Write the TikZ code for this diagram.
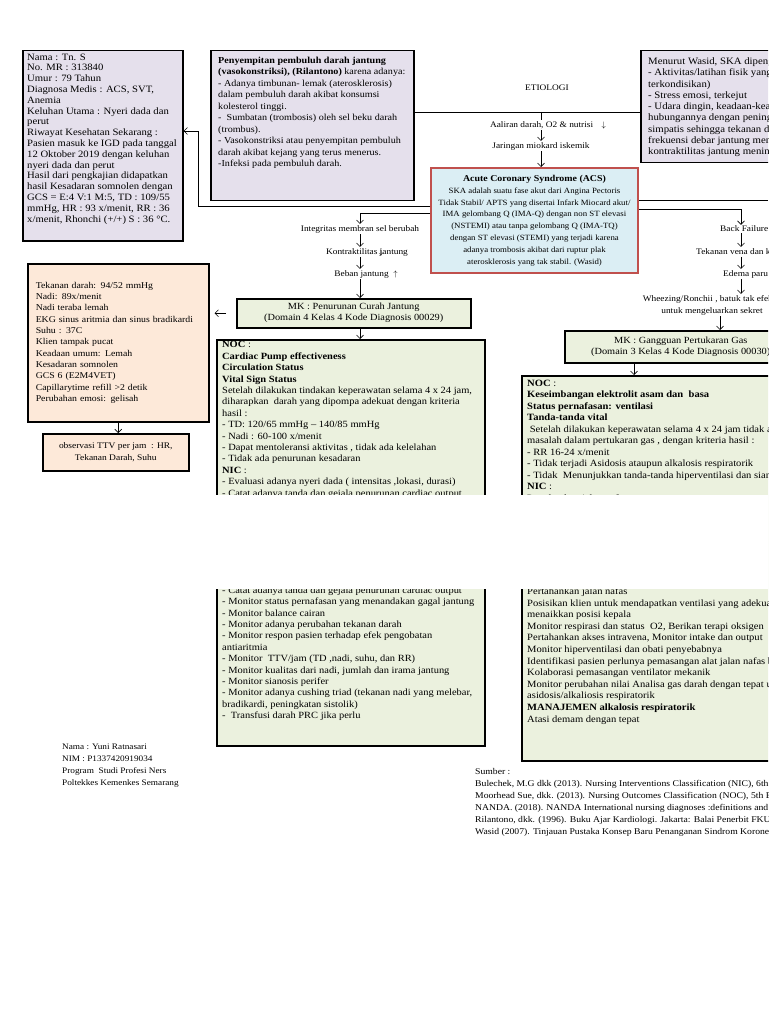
\documentclass[tikz,border=0pt]{standalone}
\usepackage{fontspec}
\setmainfont{Liberation Serif}[FakeStretch=1.1]
\usetikzlibrary{positioning, calc, arrows.meta}
\definecolor{lav}{HTML}{E5E0EC}
\definecolor{peach}{HTML}{FDE9D9}
\definecolor{sage}{HTML}{EBF1DE}
\definecolor{sky}{HTML}{DBEEF4}
\definecolor{brick}{HTML}{C0504D}
\newcommand{\fsz}[2]{\fontsize{#1}{#2}\selectfont}
\tikzset{box/.style={draw, line width=1.5pt, inner sep=0pt, anchor=north west}}
\tikzset{lavbox/.style={box, fill=lav}}
\tikzset{peachbox/.style={box, fill=peach}}
\tikzset{sagebox/.style={box, fill=sage}}
\tikzset{txt/.style={inner sep=0pt, anchor=north west, align=left}}
\tikzset{lbl/.style={inner sep=1pt, font=\fsz{8.5}{10}}}
\tikzset{arr/.style={-{Straight Barb[length=3.5pt,width=7pt]}, line width=0.6pt}}
\tikzset{link/.style={line width=0.6pt}}

\begin{document}
\begin{tikzpicture}[x=1pt, y=-1pt]
  \useasboundingbox (0,0) rectangle (768,1024);
  \clip (0,0) rectangle (768,1024);

  \node[lavbox, minimum width=160pt, minimum height=190pt] (pat) at (22,50) {};
  \node[txt, font=\fsz{9.7}{10.8}] (pattxt) at (27,53.5) {Nama : Tn. S\\No. MR : 313840\\Umur : 79 Tahun\\Diagnosa Medis : ACS, SVT,\\Anemia\\Keluhan Utama : Nyeri dada dan\\perut\\Riwayat Kesehatan Sekarang :\\Pasien masuk ke IGD pada tanggal\\12 Oktober 2019 dengan keluhan\\nyeri dada dan perut\\Hasil dari pengkajian didapatkan\\hasil Kesadaran somnolen dengan\\GCS = E:4 V:1 M:5, TD : 109/55\\mmHg, HR : 93 x/menit, RR : 36\\x/menit, Rhonchi (+/+) S : 36 °C.};

  \node[lavbox, minimum width=203pt, minimum height=150pt] (pen) at (210,50) {};
  \node[txt, font=\fsz{9.2}{11.5}] (pentxt) at (218,56.5) {\textbf{Penyempitan pembuluh darah jantung}\\\textbf{(vasokonstriksi), (Rilantono)} karena adanya:\\- Adanya timbunan- lemak (aterosklerosis)\\dalam pembuluh darah akibat konsumsi\\kolesterol tinggi.\\-\ \ Sumbatan (trombosis) oleh sel beku darah\\(trombus).\\- Vasokonstriksi atau penyempitan pembuluh\\darah akibat kejang yang terus menerus.\\-Infeksi pada pembuluh darah.};

  \node[lavbox, minimum width=140pt, minimum height=112pt] (men) at (640,50) {};
  \node[txt, font=\fsz{9.8}{11.3}] (mentxt) at (648,57.5) {Menurut Wasid, SKA dipengaruhi oleh :\\- Aktivitas/latihan fisik yang berlebihan (tak\\terkondisikan)\\- Stress emosi, terkejut\\- Udara dingin, keadaan-keadaan tersebut ada\\hubungannya dengan peningkatan aktivitas\\simpatis sehingga tekanan darah meningkat,\\frekuensi debar jantung meningkat, dan\\kontraktilitas jantung meningkat.};

  \node[lbl] (eti) at (547,88) {ETIOLOGI};
  \coordinate (cx) at (541,112);
  \draw[link] (pen.east |- cx) -- (men.west |- cx);
  \node[lbl] (alir) at (548,125) {Aaliran darah, O2 \& nutrisi\quad$\downarrow$};
  \node[lbl] (jar) at (541,146) {Jaringan miokard iskemik};
  \draw[link] (cx) -- (cx |- alir.north);
  \draw[arr] (cx |- alir.south) -- (cx |- jar.north);

  \node[box, draw=brick, line width=2pt, fill=sky, minimum width=207pt, minimum height=105pt, align=center, font=\fsz{8}{11.8}] (acs) at (430,167) {{\bfseries\fsz{9}{11.8}Acute Coronary Syndrome (ACS)}\\SKA adalah suatu fase akut dari Angina Pectoris\\Tidak Stabil/ APTS yang disertai Infark Miocard akut/\\IMA gelombang Q (IMA-Q) dengan non ST elevasi\\(NSTEMI) atau tanpa gelombang Q (IMA-TQ)\\dengan ST elevasi (STEMI) yang terjadi karena\\adanya trombosis akibat dari ruptur plak\\aterosklerosis yang tak stabil. (Wasid)};
  \draw[arr] (jar.south) -- (jar.south |- acs.north);

  \coordinate (lb) at (198,206);
  \coordinate (lt) at (198,131);
  \draw[arr] (acs.west |- lb) -- (lb) -- (lt) -- (lt -| pat.east);

  \node[lbl] (integ) at (360,229) {Integritas membran sel berubah};
  \node[lbl] (kontr) at (367,252) {Kontraktilitas\rlap{$\,\downarrow$} jantung};
  \node[lbl] (beban) at (366,274) {Beban jantung\ \ $\uparrow$};
  \coordinate (ib) at (360,213);
  \draw[arr] (acs.west |- ib) -- (ib) -- (ib |- integ.north);
  \draw[arr] (ib |- integ.south) -- (ib |- kontr.north);
  \draw[arr] (ib |- kontr.south) -- (ib |- beban.north);

  \node[sagebox, minimum width=234pt, minimum height=29pt, align=center, font=\fsz{9.4}{11}] (mkl) at (236,298) {MK : Penurunan Curah Jantung\\(Domain 4 Kelas 4 Kode Diagnosis 00029)};
  \draw[arr] (ib |- beban.south) -- (ib |- mkl.north);

  \node[peachbox, minimum width=181pt, minimum height=158pt, text width=165pt, inner xsep=8pt, align=left, font=\fsz{8.9}{11.3}] (tek) at (27,263) {Tekanan darah: 94/52 mmHg\\Nadi: 89x/menit\\Nadi teraba lemah\\EKG sinus aritmia dan sinus bradikardi\\Suhu : 37C\\Klien tampak pucat\\Keadaan umum: Lemah\\Kesadaran somnolen\\GCS 6 (E2M4VET)\\Capillarytime refill >2 detik\\Perubahan emosi: gelisah};
  \draw[arr, shorten <=10pt, shorten >=5pt] (mkl.west) -- (mkl.west -| tek.east);

  \node[peachbox, minimum width=146pt, minimum height=37pt, align=center, font=\fsz{8.6}{12}] (obs) at (42,433) {observasi TTV per jam\ \ : HR,\\Tekanan Darah, Suhu};
  \draw[arr] (tek.south) -- (tek.south |- obs.north);

  \node[sagebox, minimum width=268pt, minimum height=406pt] (nocl) at (216,339) {};
  \draw[arr] (ib |- mkl.south) -- (ib |- nocl.north);
  \node[txt, font=\fsz{9.5}{11.4}] (noclup) at (222,341.5) {\textbf{NOC} :\\\textbf{Cardiac Pump effectiveness}\\\textbf{Circulation Status}\\\textbf{Vital Sign Status}\\Setelah dilakukan tindakan keperawatan selama 4 x 24 jam,\\diharapkan\ \ darah yang dipompa adekuat dengan kriteria\\hasil :\\- TD: 120/65 mmHg -- 140/85 mmHg\\- Nadi : 60-100 x/menit\\- Dapat mentoleransi aktivitas , tidak ada kelelahan\\- Tidak ada penurunan kesadaran\\\textbf{NIC} :\\- Evaluasi adanya nyeri dada ( intensitas ,lokasi, durasi)\\- Catat adanya tanda dan gejala penurunan cardiac output};
  \node[txt, font=\fsz{9.5}{11.4}] (nocllo) at (222,586.5) {- Catat adanya tanda dan gejala penurunan cardiac output\\- Monitor status pernafasan yang menandakan gagal jantung\\- Monitor balance cairan\\- Monitor adanya perubahan tekanan darah\\- Monitor respon pasien terhadap efek pengobatan\\antiaritmia\\- Monitor\ \ TTV/jam (TD ,nadi, suhu, dan RR)\\- Monitor kualitas dari nadi, jumlah dan irama jantung\\- Monitor sianosis perifer\\- Monitor adanya cushing triad (tekanan nadi yang melebar,\\bradikardi, peningkatan sistolik)\\-\ \ Transfusi darah PRC jika perlu};

  \coordinate (rb) at (741,209);
  \coordinate (re) at (768,200);
  \draw[link] (acs.east |- re) -- (re);
  \node[lbl, anchor=west] (back) at (719,229) {Back Failure};
  \node[lbl, anchor=west] (tekv) at (695,252) {Tekanan vena dan kapiler paru meningkat};
  \node[lbl, anchor=west] (edema) at (722,274) {Edema paru meningkat};
  \node[lbl, align=center, font=\fsz{8.5}{12}] (whz) at (712,305) {Wheezing/Ronchii , batuk tak efektif\\untuk mengeluarkan sekret};
  \draw[arr] (acs.east |- rb) -- (rb) -- (rb |- back.north);
  \draw[arr] (rb |- back.south) -- (rb |- tekv.north);
  \draw[arr] (rb |- tekv.south) -- (rb |- edema.north);
  \draw[arr] (rb |- edema.south) -- (rb |- whz.north);

  \node[sagebox, minimum width=232pt, minimum height=32pt, align=center, font=\fsz{9.4}{11.5}] (mkr) at (564,330) {MK : Gangguan Pertukaran Gas\\(Domain 3 Kelas 4 Kode Diagnosis 00030)};
  \coordinate (aw) at (720,0);
  \draw[arr] (whz.south -| aw) -- (aw |- mkr.north);

  \node[sagebox, minimum width=260pt, minimum height=385pt] (nocr) at (521,375) {};
  \coordinate (am) at (634,0);
  \draw[arr] (mkr.south -| am) -- (am |- nocr.north);
  \node[txt, font=\fsz{9.6}{11.5}] (nocrup) at (527,379.5) {\textbf{NOC} :\\\textbf{Keseimbangan elektrolit asam dan\ \ basa}\\\textbf{Status pernafasan: ventilasi}\\\textbf{Tanda-tanda vital}\\\ Setelah dilakukan keperawatan selama 4 x 24 jam tidak ada\\masalah dalam pertukaran gas , dengan kriteria hasil :\\- RR 16-24 x/menit\\- Tidak terjadi Asidosis ataupun alkalosis respiratorik\\- Tidak\ \ Menunjukkan tanda-tanda hiperventilasi dan sianosis\\\textbf{NIC} :\\Pertahankan jalan nafas};
  \node[txt, font=\fsz{9.6}{11.6}] (nocrlo) at (527,587.5) {Pertahankan jalan nafas\\Posisikan klien untuk mendapatkan ventilasi yang adekuat dengan\\menaikkan posisi kepala\\Monitor respirasi dan status\ \ O2, Berikan terapi oksigen\\Pertahankan akses intravena, Monitor intake dan output\\Monitor hiperventilasi dan obati penyebabnya\\Identifikasi pasien perlunya pemasangan alat jalan nafas buatan\\Kolaborasi pemasangan ventilator mekanik\\Monitor perubahan nilai Analisa gas darah dengan tepat untuk\\asidosis/alkaliosis respiratorik\\\textbf{MANAJEMEN alkalosis respiratorik}\\Atasi demam dengan tepat};

  \fill[white] (0,494.5) rectangle (768,589);

  \node[txt, font=\fsz{8.4}{12}] (nama) at (62,743.5) {Nama : Yuni Ratnasari\\NIM : P1337420919034\\Program\ \ Studi Profesi Ners\\Poltekkes Kemenkes Semarang};
  \node[txt, font=\fsz{8.8}{12}] (sumber) at (475,768.5) {Sumber :\\Bulechek, M.G dkk (2013). Nursing Interventions Classification (NIC), 6th Edition\\Moorhead Sue, dkk. (2013). Nursing Outcomes Classification (NOC), 5th Edition\\NANDA. (2018). NANDA International nursing diagnoses :definitions and classification\\Rilantono, dkk. (1996). Buku Ajar Kardiologi. Jakarta: Balai Penerbit FKUI\\Wasid (2007). Tinjauan Pustaka Konsep Baru Penanganan Sindrom Koroner Akut};
\end{tikzpicture}
\end{document}
